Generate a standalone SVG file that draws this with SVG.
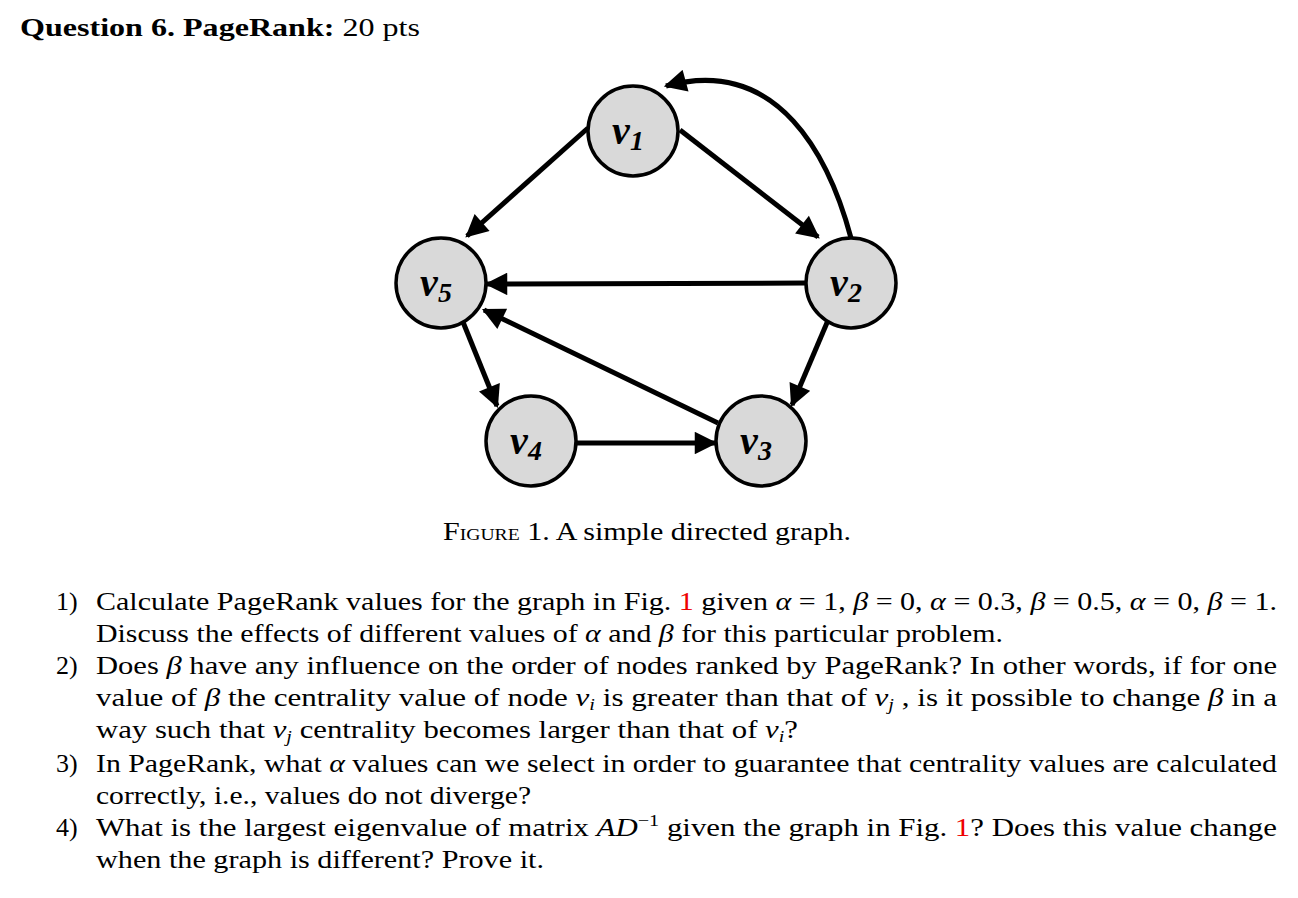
<svg xmlns="http://www.w3.org/2000/svg" width="1298" height="898" viewBox="0 0 1298 898">
<style>
.t{font-family:"Liberation Serif","DejaVu Serif",serif;font-size:26px;fill:#000}
.n circle{fill:#d9d9d9;stroke:#000;stroke-width:3.5}
.n text{font-family:"Liberation Serif",serif;font-weight:bold;font-style:italic;font-size:40px;text-anchor:middle}
.e{stroke:#000;stroke-width:5;fill:none;marker-end:url(#a)}
</style>
<defs><marker id="a" viewBox="0 0 10 10" refX="9" refY="5" markerWidth="5" markerHeight="4.5" orient="auto" markerUnits="strokeWidth"><path d="M0,0L10,5L0,10z"/></marker></defs>
<rect width="1298" height="898" fill="#fff"/>
<text class="t" x="20" y="36" textLength="400" lengthAdjust="spacingAndGlyphs"><tspan font-weight="bold">Question 6.  PageRank:</tspan> 20 pts</text>
<g id="edges">
<path class="e" d="M588,128L467,236"/>
<path class="e" d="M680,130L818,237"/>
<path class="e" d="M851,238C830,160 780,55 666,86"/>
<path class="e" d="M806,283L487,284"/>
<path class="e" d="M829,318L792,405"/>
<path class="e" d="M718,423L484,310"/>
<path class="e" d="M463,322L497,406"/>
<path class="e" d="M577,443L715,443"/>
</g>
<g id="v1" class="n"><circle cx="633" cy="131" r="45"/><text x="628" y="144">v<tspan font-size="28" dy="6">1</tspan></text></g>
<g id="v2" class="n"><circle cx="851" cy="283" r="45"/><text x="846" y="296">v<tspan font-size="28" dy="6">2</tspan></text></g>
<g id="v5" class="n"><circle cx="441" cy="283" r="45"/><text x="436" y="296">v<tspan font-size="28" dy="6">5</tspan></text></g>
<g id="v4" class="n"><circle cx="531" cy="441" r="45"/><text x="526" y="454">v<tspan font-size="28" dy="6">4</tspan></text></g>
<g id="v3" class="n"><circle cx="761" cy="441" r="45"/><text x="756" y="454">v<tspan font-size="28" dy="6">3</tspan></text></g>
<text class="t" x="443" y="540" font-size="22" textLength="408" lengthAdjust="spacingAndGlyphs">F<tspan font-size="17">IGURE</tspan> 1.  A simple directed graph.</text>
<g class="t">
<text x="56" y="610">1)</text>
<text x="96" y="610" textLength="1181" lengthAdjust="spacingAndGlyphs">Calculate PageRank values for the graph in Fig. <tspan fill="#e00">1</tspan> given <tspan font-style="italic">α</tspan> = 1, <tspan font-style="italic">β</tspan> = 0, <tspan font-style="italic">α</tspan> = 0.3, <tspan font-style="italic">β</tspan> = 0.5, <tspan font-style="italic">α</tspan> = 0, <tspan font-style="italic">β</tspan> = 1.</text>
<text x="96" y="642" textLength="907" lengthAdjust="spacingAndGlyphs">Discuss the effects of different values of <tspan font-style="italic">α</tspan> and <tspan font-style="italic">β</tspan> for this particular problem.</text>
<text x="56" y="674">2)</text>
<text x="96" y="674" textLength="1181" lengthAdjust="spacingAndGlyphs">Does <tspan font-style="italic">β</tspan> have any influence on the order of nodes ranked by PageRank? In other words, if for one</text>
<text x="96" y="706" textLength="1181" lengthAdjust="spacingAndGlyphs">value of <tspan font-style="italic">β</tspan> the centrality value of node <tspan font-style="italic">v<tspan font-size="17" dy="4">i</tspan></tspan><tspan dy="-4"> is greater than that of </tspan><tspan font-style="italic">v<tspan font-size="17" dy="4">j</tspan></tspan><tspan dy="-4"> , is it possible to change </tspan><tspan font-style="italic">β</tspan> in a</text>
<text x="96" y="738" textLength="702" lengthAdjust="spacingAndGlyphs">way such that <tspan font-style="italic">v<tspan font-size="17" dy="4">j</tspan></tspan><tspan dy="-4"> centrality becomes larger than that of </tspan><tspan font-style="italic">v<tspan font-size="17" dy="4">i</tspan></tspan><tspan dy="-4">?</tspan></text>
<text x="56" y="772">3)</text>
<text x="96" y="772" textLength="1181" lengthAdjust="spacingAndGlyphs">In PageRank, what <tspan font-style="italic">α</tspan> values can we select in order to guarantee that centrality values are calculated</text>
<text x="96" y="804" textLength="435" lengthAdjust="spacingAndGlyphs">correctly, i.e., values do not diverge?</text>
<text x="56" y="836">4)</text>
<text x="96" y="836" textLength="1181" lengthAdjust="spacingAndGlyphs">What is the largest eigenvalue of matrix <tspan font-style="italic">AD</tspan><tspan font-size="17" dy="-10">−1</tspan><tspan dy="10"> given the graph in Fig. </tspan><tspan fill="#e00">1</tspan>? Does this value change</text>
<text x="96" y="868" textLength="448" lengthAdjust="spacingAndGlyphs">when the graph is different? Prove it.</text>
</g>
</svg>
